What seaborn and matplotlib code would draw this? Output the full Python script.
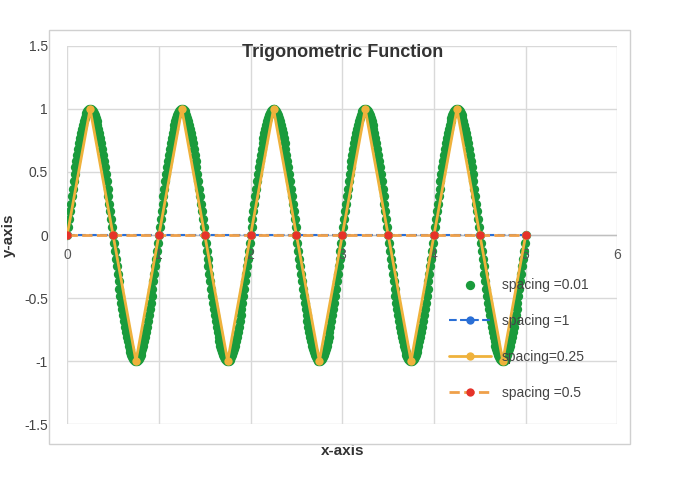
import numpy as np
import matplotlib
matplotlib.use("Agg")
import matplotlib.pyplot as plt
import seaborn as sns

# sample points of y = sin(2*pi*x) on [0, 5] at four spacings
x_001 = np.round(np.arange(0, 5.0001, 0.01), 2)
y_001 = np.sin(2 * np.pi * x_001)
x_1 = [0, 1, 2, 3, 4, 5]
y_1 = [0, 0, 0, 0, 0, 0]
x_025 = [0, 0.25, 0.5, 0.75, 1, 1.25, 1.5, 1.75, 2, 2.25, 2.5, 2.75, 3,
         3.25, 3.5, 3.75, 4, 4.25, 4.5, 4.75, 5]
y_025 = [0, 1, 0, -1, 0, 1, 0, -1, 0, 1, 0, -1, 0, 1, 0, -1, 0, 1, 0, -1, 0]
x_05 = [0, 0.5, 1, 1.5, 2, 2.5, 3, 3.5, 4, 4.5, 5]
y_05 = [0, 0, 0, 0, 0, 0, 0, 0, 0, 0, 0]

sns.set_style("white")
plt.rcParams['font.family'] = ['Liberation Sans', 'DejaVu Sans']

fig = plt.figure(figsize=(7, 4.99), dpi=100)
ax = fig.add_axes([0.096, 0.150, 0.786, 0.758])

sns.scatterplot(x=x_001, y=y_001, color='#1a9b3c', s=45, linewidth=0,
                ax=ax, label='spacing =0.01', zorder=3)
sns.lineplot(x=x_1, y=y_1, color='#2a6fd6', linestyle='--', marker='o',
             markersize=6, markeredgewidth=0, ax=ax, label='spacing =1', zorder=4)
sns.lineplot(x=x_025, y=y_025, color='#efb23c', linewidth=2, marker='o',
             markersize=6, markeredgewidth=0, ax=ax, label='spacing=0.25', zorder=4)
sns.lineplot(x=x_05, y=y_05, color='#efa04a', linestyle='--', linewidth=2,
             marker='o', markerfacecolor='#e5332a', markersize=6,
             markeredgewidth=0, ax=ax, label='spacing =0.5', zorder=5)

ax.set_xlim(0, 6)
ax.set_ylim(-1.5, 1.5)
ax.set_yticks([-1.5, -1, -0.5, 0, 0.5, 1, 1.5])
ax.set_yticklabels(['-1.5', '-1', '-0.5', '0', '0.5', '1', '1.5'], fontsize=10, color='#444444')
ax.set_xticks(range(7))
ax.set_xticklabels([])
for v in range(7):
    ax.text(v, -0.1, str(v), ha='center', va='top', fontsize=10, color='#555555')
ax.grid(True, color='#d9d9d9', linewidth=1)
for s in ax.spines.values():
    s.set_visible(False)
ax.axhline(0, color='#bfbfbf', linewidth=1, zorder=1)
ax.tick_params(length=0, pad=14)

ax.set_title('Trigonometric Function', fontsize=13, fontweight='bold', color='#333333', pad=-8)
ax.set_xlabel('x-axis', fontsize=11, fontweight='bold', color='#333333', labelpad=0)
ax.set_ylabel('y-axis', fontsize=11, fontweight='bold', color='#333333', labelpad=6)

ax.legend(loc='lower right', bbox_to_anchor=(0.97, 0.03), frameon=False,
          fontsize=10, labelspacing=1.6, handlelength=3, labelcolor='#444444')

fig.patches.append(plt.Rectangle((0.07, 0.11), 0.83, 0.83, transform=fig.transFigure,
                                 fill=False, edgecolor='#d0d0d0', linewidth=1))
fig.savefig('out.png', dpi=100)
